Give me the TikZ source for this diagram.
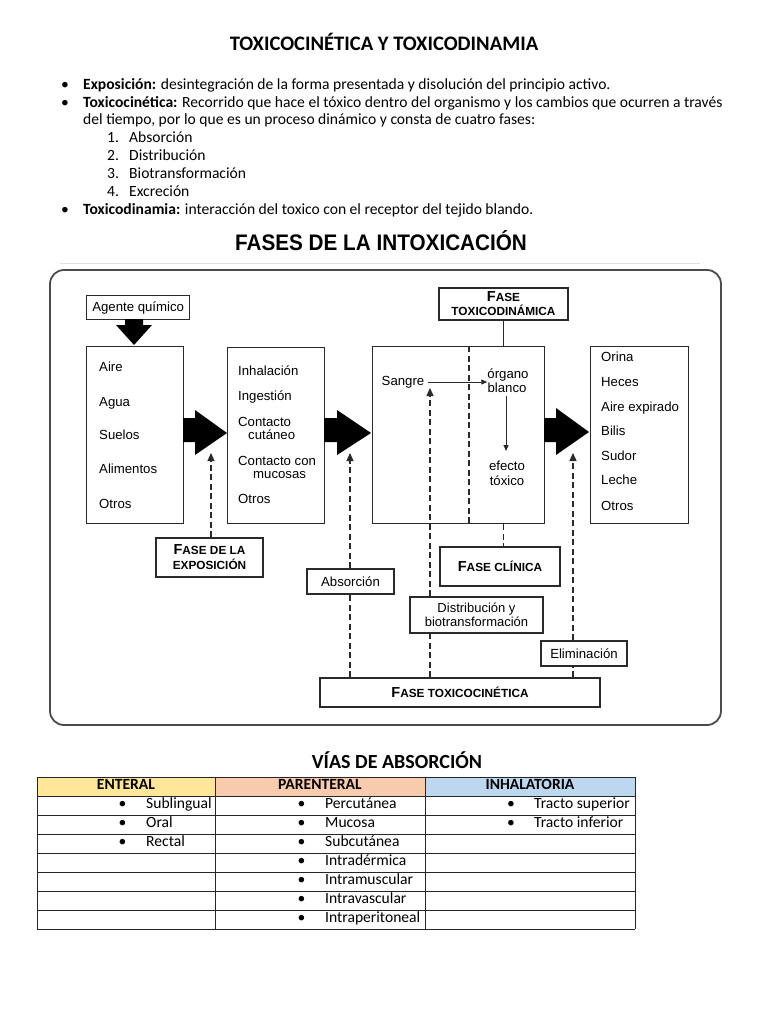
\documentclass[tikz,border=0pt]{standalone}
\usepackage{fontspec}
\setmainfont{Carlito}
\newfontfamily\dfont{Liberation Sans}
\usetikzlibrary{arrows.meta,calc}
\definecolor{cyel}{HTML}{FFE699}
\definecolor{csal}{HTML}{F8CBAD}
\definecolor{cblu}{HTML}{BDD7EE}
\definecolor{dline}{HTML}{2A2A2A}
\newcommand\bodyfs{\fontsize{15.6}{18}\selectfont}
\newcommand\dfs{\dfont\fontsize{13.2}{13}\selectfont}
\newcommand\scx[2]{{\fontsize{14.5}{13}\selectfont #1}{\fontsize{11.8}{13}\selectfont #2}}
\begin{document}
\begin{tikzpicture}[x=1pt,y=-1pt,
  txt/.style={inner sep=0pt, anchor=west, font=\bodyfs, text height=0.64em, text depth=0pt},
  ctxt/.style={inner sep=0pt, anchor=center, text height=0.64em, text depth=0pt},
  dbox/.style={draw=dline, line width=1.3pt, inner sep=0pt, anchor=north west},
  ditem/.style={inner sep=0pt, anchor=west, font=\dfs, text height=0.7em, text depth=0pt},
  citem/.style={inner sep=0pt, anchor=center, font=\dfs, text height=0.7em, text depth=0pt},
  dashln/.style={draw=dline, line width=1.2pt, dash pattern=on 6pt off 3.5pt},
  dashar/.style={dashln, -{Triangle[length=8pt,width=7pt]}},
  thinar/.style={draw=dline, line width=0.9pt, -{Triangle[length=6pt,width=5pt]}},
  tline/.style={draw=black!85, line width=0.9pt},
]
\useasboundingbox (0,0) rectangle (768,1024);
\fill[white] (0,0) rectangle (768,1024);

% ---------- top text ----------
\node[ctxt, font=\fontsize{20.6}{22}\selectfont\bfseries] (title) at (384,47) {TOXICOCINÉTICA Y TOXICODINAMIA};
\node[txt] (bu1) at (61,86) {•};
\node[txt] (l1) at (83,86) {\textbf{Exposición:} desintegración de la forma presentada y disolución del principio activo.};
\node[txt] (bu2) at (61,104) {•};
\node[txt] (l2) at (83,104) {\textbf{Toxicocinética:} Recorrido que hace el tóxico dentro del organismo y los cambios que ocurren a través};
\node[txt] (l3) at (83,121) {del tiempo, por lo que es un proceso dinámico y consta de cuatro fases:};
\foreach \t [count=\i] in {Absorción,Distribución,Biotransformación,Excreción} {
  \node[txt] (n\i) at (107,121+18*\i) {\i.};
  \node[txt] (f\i) at (129,121+18*\i) {\t};
}
\node[txt] (bu3) at (61,211) {•};
\node[txt] (l8) at (83,211) {\textbf{Toxicodinamia:} interacción del toxico con el receptor del tejido blando.};

% ---------- diagram ----------
\node[ctxt, font=\dfont\bfseries\fontsize{22.5}{24}\selectfont] (dtitle) at (381,247) {\scalebox{0.92}[1]{FASES DE LA INTOXICACIÓN}};
\draw[black!12, line width=0.8pt] (60,263) -- (700,263);
\draw[black!70, line width=1.8pt, rounded corners=14pt] (50,270) rectangle (721,725);

\node[dbox, minimum width=103pt, minimum height=24pt] (agente) at (86,295) {};
\node[citem] (agtxt) at (agente.center) {Agente químico};
\fill (125,319) -- (143,319) -- (143,325) -- (152,325) -- (134,345) -- (116,325) -- (125,325) -- cycle;

\node[dbox, minimum width=97pt, minimum height=177pt] (b1) at (86,346) {};
\foreach \t/\yy [count=\i] in {Aire/368,Agua/403,Suelos/436,Alimentos/470,Otros/505}
  \node[ditem] (a\i) at (99,\yy) {\t};

\node[dbox, minimum width=97pt, minimum height=176pt] (b2) at (227,347) {};
\node[ditem] (v1) at (238,372) {Inhalación};
\node[ditem] (v2) at (238,397) {Ingestión};
\node[ditem] (v3) at (238,423) {Contacto};
\node[ditem] (v4) at (248,436) {cutáneo};
\node[ditem] (v5) at (238,462) {Contacto con};
\node[ditem] (v6) at (253,475) {mucosas};
\node[ditem] (v7) at (238,500) {Otros};

\node[dbox, minimum width=172pt, minimum height=177pt] (b3) at (372,346) {};
\node[dbox, minimum width=98pt, minimum height=177pt] (b4) at (590,346) {};
\foreach \t/\yy [count=\i] in {Orina/358,Heces/383,Aire expirado/408,Bilis/432,Sudor/457,Leche/481,Otros/507}
  \node[ditem] (o\i) at (601,\yy) {\t};

% fat arrows
\fill (183,418) -- (195,418) -- (195,410) -- (227,433) -- (195,455) -- (195,442) -- (183,442) -- cycle;
\fill (324,418) -- (337,418) -- (337,410) -- (371,433) -- (337,455) -- (337,442) -- (324,442) -- cycle;
\fill (544,418) -- (556,418) -- (556,408) -- (589,432) -- (556,455) -- (556,442) -- (544,442) -- cycle;

% inside box 3
\node[citem] (sangre) at (403,382) {Sangre};
\node[citem] (organo) at (508,375) {órgano};
\node[citem] (blanco) at (507,389) {blanco};
\node[citem] (efecto) at (507,467) {efecto};
\node[citem] (toxico) at (507,482) {tóxico};
\draw[thinar] (sangre.east) ++(4,0) coordinate (sg) -- (sg -| organo.west);
\coordinate (ob) at (506,396);
\coordinate (ef) at (506,451);
\draw[thinar] (ob) -- (ef);
\coordinate (divx) at (469,0);
\draw[dashln] (divx |- b3.north) -- (divx |- b3.south);

% phase boxes
\node[dbox, anchor=center, minimum width=129pt, minimum height=32pt, align=center,
  font=\dfont\bfseries\fontsize{11.8}{14}\selectfont] (tdin) at (503.5,304) {\scx{F}{ASE}\\TOXICODINÁMICA};
\node[dbox, anchor=center, minimum width=107pt, minimum height=39pt, align=center,
  font=\dfont\bfseries\fontsize{11.8}{15}\selectfont] (expo) at (209.5,557.5) {\scx{F}{ASE DE LA}\\EXPOSICIÓN};
\node[dbox, anchor=center, minimum width=120pt, minimum height=39pt,
  font=\dfont\bfseries\fontsize{11.8}{13}\selectfont] (clin) at (500,566.5) {\scx{F}{ASE CLÍNICA}};
\node[dbox, anchor=center, minimum width=87pt, minimum height=25pt, font=\dfs] (absor) at (350.5,581.5) {Absorción};
\node[dbox, anchor=center, minimum width=133pt, minimum height=36pt, align=center,
  font=\dfont\fontsize{13}{14}\selectfont] (distr) at (476.5,615) {Distribución y\\biotransformación};
\node[dbox, anchor=center, minimum width=86pt, minimum height=25pt, font=\dfs] (elim) at (584,653.5) {Eliminación};
\node[dbox, anchor=center, minimum width=280pt, minimum height=29pt,
  font=\dfont\bfseries\fontsize{11.5}{13}\selectfont] (ftc) at (460,692.5) {\scx{F}{ASE TOXICOCINÉTICA}};

% connectors
\draw[dline, line width=1.2pt] (tdin.south) -- (tdin.south |- b3.north);
\draw[dashln] (b3.south -| tdin) -- (clin.north -| tdin);
\coordinate (t1) at (211,453);
\coordinate (t2) at (350,453);
\coordinate (t3) at (430,388);
\coordinate (t4) at (573,453);
\draw[dashar] (expo.north -| t1) -- (t1);
\draw[dashln] (ftc.north -| t2) -- (absor.south -| t2);
\draw[dashar] (absor.north -| t2) -- (t2);
\draw[dashln] (ftc.north -| t3) -- (distr.south -| t3);
\draw[dashar] (distr.north -| t3) -- (t3);
\draw[dashln] (ftc.north -| t4) -- (elim.south -| t4);
\draw[dashar] (elim.north -| t4) -- (t4);

% ---------- table ----------
\node[ctxt, font=\fontsize{20}{22}\selectfont\bfseries] (vtitle) at (397,765) {VÍAS DE ABSORCIÓN};
\fill[cyel] (37,777) rectangle (215,796);
\fill[csal] (215,777) rectangle (425,796);
\fill[cblu] (425,777) rectangle (635,796);
\foreach \yy in {777,796,...,929} \draw[tline] (37,\yy) -- (635,\yy);
\foreach \xx in {37,215,425,635} \draw[tline] (\xx,777) -- (\xx,929);
\node[ctxt, font=\bodyfs\bfseries] (h1) at (126,786.5) {ENTERAL};
\node[ctxt, font=\bodyfs\bfseries] (h2) at (320,786.5) {PARENTERAL};
\node[ctxt, font=\bodyfs\bfseries] (h3) at (530,786.5) {INHALATORIA};
\foreach \t [count=\i] in {Sublingual,Oral,Rectal} {
  \node[txt] (eb\i) at (118.5,786.5+19*\i) {•};
  \node[txt] (et\i) at (146,786.5+19*\i) {\t};
}
\foreach \t [count=\i] in {Percutánea,Mucosa,Subcutánea,Intradérmica,Intramuscular,Intravascular,Intraperitoneal} {
  \node[txt] (pb\i) at (297.5,786.5+19*\i) {•};
  \node[txt] (pt\i) at (325,786.5+19*\i) {\t};
}
\foreach \t [count=\i] in {Tracto superior,Tracto inferior} {
  \node[txt] (ib\i) at (507,786.5+19*\i) {•};
  \node[txt] (it\i) at (534,786.5+19*\i) {\t};
}
\end{tikzpicture}
\end{document}
